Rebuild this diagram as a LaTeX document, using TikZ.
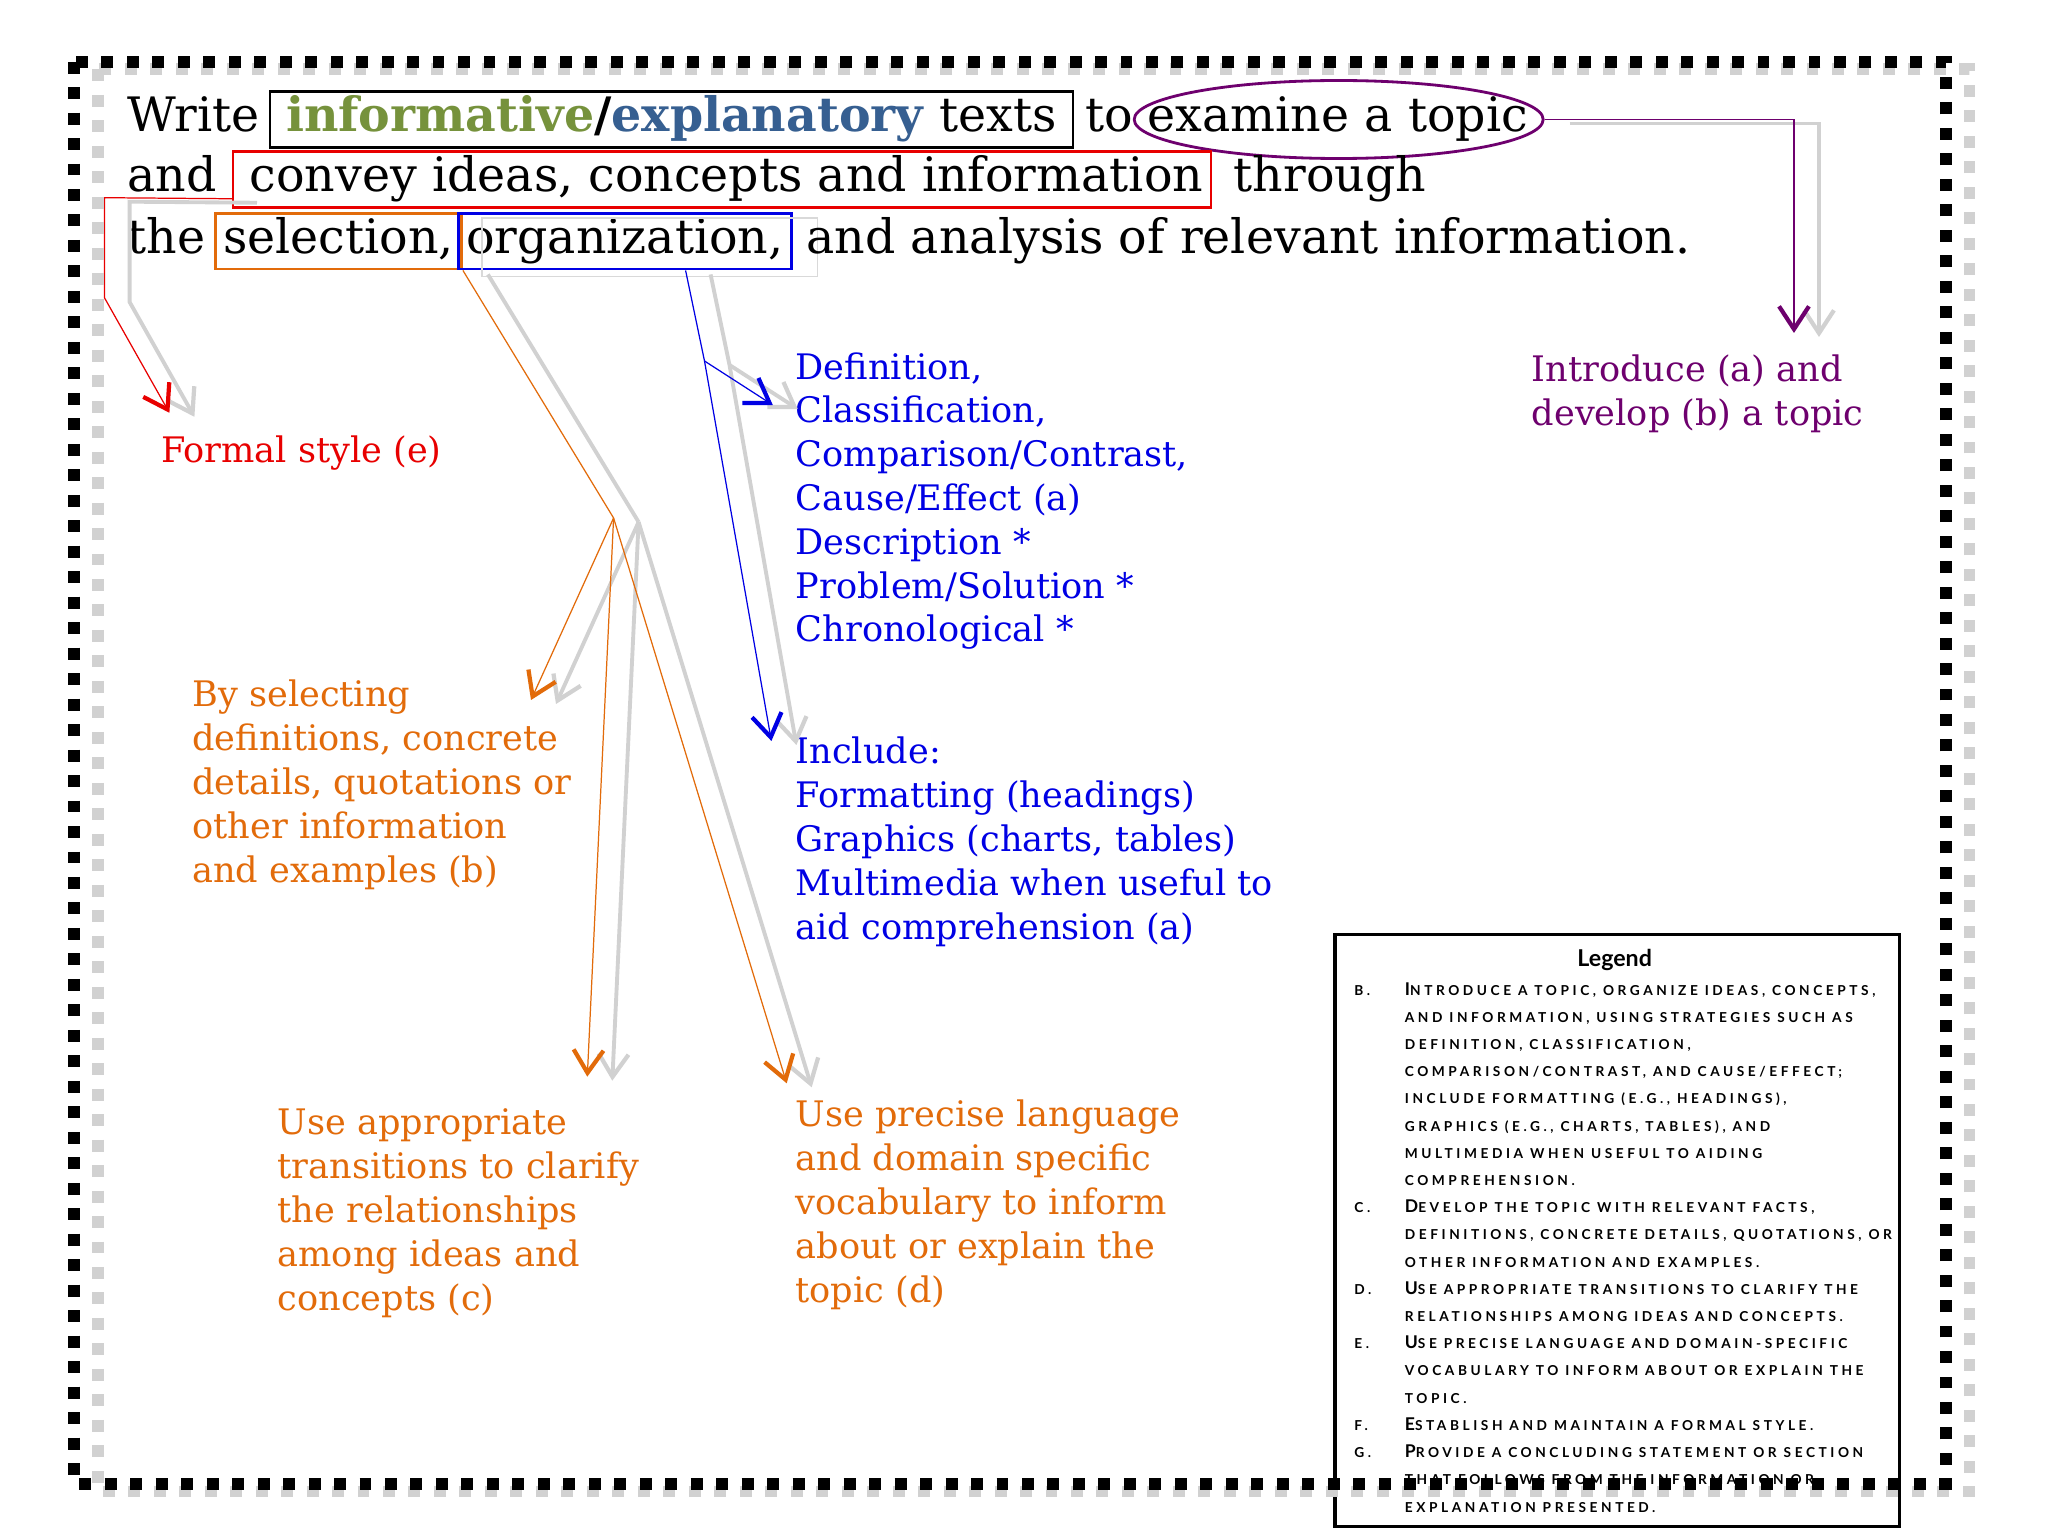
\documentclass[tikz,border=0pt]{standalone}
\usepackage{fontspec}
\usepackage{xcolor}
\usepackage{tikz}
\setmainfont{DejaVu Serif}
\newfontfamily\legendfont[LetterSpace=26]{Lato}
\newfontfamily\titlefont{Lato}
\usetikzlibrary{shapes.geometric,arrows.meta}

\definecolor{infogreen}{RGB}{118,146,60}
\definecolor{explblue}{RGB}{54,95,145}
\definecolor{stylered}{RGB}{232,0,0}
\definecolor{deforange}{RGB}{226,107,10}
\definecolor{orgblue}{RGB}{0,0,228}
\definecolor{topicpurple}{RGB}{110,0,110}

\newcommand{\hd}{\fontsize{13.5}{17}\selectfont}
\newcommand{\lbl}{\fontsize{10}{12.47}\selectfont}
\newcommand{\lgsmall}{\fontsize{3.9}{7.74}\selectfont}
\newcommand{\lgcap}[1]{{\fontsize{5}{7.74}\selectfont #1}}

\tikzset{
    word/.style={anchor=base west, inner sep=0pt, font=\hd},
    markbox/.style={draw=#1, line width=0.7pt, anchor=base west, font=\hd, inner xsep=2.2pt, inner ysep=1pt, text height=10.4pt, text depth=3.5pt},
    note/.style={anchor=base west, inner sep=0pt, align=left, font=\lbl, text=#1},
    link/.style={draw=#1, line width=0.35pt},
    ghost/.style={draw=black!18, line width=1.1pt, transform canvas={shift={(0.25, -0.04)}}},
    vtip/.style={-{Straight Barb[length=6.5pt, width=8.5pt, line width=1.2pt]}},
}

\begin{document}
\begin{tikzpicture}
    \fill[white] (0, 0) rectangle (20.48, -15.36);
    \useasboundingbox (0, 0) rectangle (20.48, -15.36);

    \node[word] (write) at (1.27, -1.317) {Write};
    \node[markbox=black, minimum width=8.035cm] (kind) at (2.685, -1.317) {\textcolor{infogreen}{\textbf{informative}}\textbf{/}\textcolor{explblue}{\textbf{explanatory}} texts};
    \node[word] (to) at (10.85, -1.317) {to};
    \node[word] (topic) at (11.47, -1.317) {examine a topic};
    \node[ellipse, draw=topicpurple, line width=0.8pt, minimum width=4.09cm, minimum height=0.78cm, inner sep=0pt] (ring) at (13.387, -1.195) {};

    \node[word] (and) at (1.27, -1.917) {and};
    \node[markbox=stylered] (convey) at (2.32, -1.917) {\hspace{2.5pt}convey ideas, concepts and information};
    \node[word] (through) at (12.33, -1.917) {through};

    \node[word] (the) at (1.27, -2.534) {the};
    \node[markbox=deforange] (select) at (2.143, -2.534) {selection,};
    \node[markbox=orgblue] (organize) at (4.573, -2.534) {organization,};
    \draw[black!15, line width=0.5pt] ([shift={(0.25, -0.06)}]organize.north west) rectangle ([shift={(0.25, -0.06)}]organize.south east);
    \node[word] (rest) at (8.06, -2.534) {and analysis of relevant information.};

    \node[note=topicpurple] (intro) at (15.31, -4.257) {Introduce (a) and\\develop (b) a topic};
    \node[note=stylered] (formal) at (1.604, -4.626) {Formal style (e)};
    \node[note=orgblue] (structures) at (7.95, -6.42) {Definition,\\Classification,\\Comparison/Contrast,\\Cause/Effect (a)\\Description *\\Problem/Solution *\\Chronological *};
    \node[note=orgblue] (include) at (7.95, -9.39) {Include:\\Formatting (headings)\\Graphics (charts, tables)\\Multimedia when useful to\\aid comprehension (a)};
    \node[note=deforange] (details) at (1.917, -8.82) {By selecting\\definitions, concrete\\details, quotations or\\other information\\and examples (b)};
    \node[note=deforange] (transitions) at (2.77, -13.10) {Use appropriate\\transitions to clarify\\the relationships\\among ideas and\\concepts (c)};
    \node[note=deforange] (language) at (7.95, -13.02) {Use precise language\\and domain specific\\vocabulary to inform\\about or explain the\\topic (d)};

    \coordinate (introtip) at (17.94, -3.33);
    \coordinate (formaltip) at (1.694, -4.128);
    \coordinate (fork) at (6.136, -5.18);
    \coordinate (bytip) at (5.31, -7.0);
    \coordinate (transtip) at (5.873, -10.767);
    \coordinate (precisetip) at (7.867, -10.833);
    \coordinate (orgbend) at (7.045, -3.61);
    \coordinate (deftip) at (7.728, -4.05);
    \coordinate (inctip) at (7.714, -7.41);

    \draw[ghost, vtip] (ring.east) -| (introtip);
    \draw[link=topicpurple, vtip] (ring.east) -| (introtip);

    \draw[ghost, vtip] ([yshift=1mm]convey.south west) -- (1.046, -1.977) -- (1.046, -2.98) -- (formaltip);
    \draw[link=stylered, vtip] ([yshift=1mm]convey.south west) -- (1.046, -1.977) -- (1.046, -2.98) -- (formaltip);

    \draw[ghost] (select.south east) -- (fork);
    \draw[ghost, vtip] (fork) -- (bytip);
    \draw[ghost, vtip] (fork) -- (transtip);
    \draw[ghost, vtip] (fork) -- (precisetip);
    \draw[link=deforange] (select.south east) -- (fork);
    \draw[link=deforange, vtip] (fork) -- (bytip);
    \draw[link=deforange, vtip] (fork) -- (transtip);
    \draw[link=deforange, vtip] (fork) -- (precisetip);

    \draw[ghost] ([xshift=-1.07cm]organize.south east) -- (orgbend);
    \draw[ghost, vtip] (orgbend) -- (deftip);
    \draw[ghost, vtip] (orgbend) -- (inctip);
    \draw[link=orgblue] ([xshift=-1.07cm]organize.south east) -- (orgbend);
    \draw[link=orgblue, vtip] (orgbend) -- (deftip);
    \draw[link=orgblue, vtip] (orgbend) -- (inctip);

    \node[draw, line width=0.9pt, anchor=north west, minimum width=5.645cm, minimum height=5.917cm, inner sep=0pt] (legend) at (13.334, -9.333) {};
    \node[font=\titlefont\bfseries\fontsize{6.6}{8}\selectfont, anchor=base, inner sep=0pt] (legendhead) at (16.147, -9.667) {Legend};
    \node[anchor=base west, inner sep=0pt, align=left, font=\legendfont\bfseries\lgsmall] (legendlist) at (13.537, -15.12) {
        \makebox[0.505cm][l]{B.}\lgcap{I}NTRODUCE A TOPIC, ORGANIZE IDEAS, CONCEPTS,\\
        \hspace*{0.505cm}AND INFORMATION, USING STRATEGIES SUCH AS\\
        \hspace*{0.505cm}DEFINITION, CLASSIFICATION,\\
        \hspace*{0.505cm}COMPARISON/CONTRAST, AND CAUSE/EFFECT;\\
        \hspace*{0.505cm}INCLUDE FORMATTING (E.G., HEADINGS),\\
        \hspace*{0.505cm}GRAPHICS (E.G., CHARTS, TABLES), AND\\
        \hspace*{0.505cm}MULTIMEDIA WHEN USEFUL TO AIDING\\
        \hspace*{0.505cm}COMPREHENSION.\\
        \makebox[0.505cm][l]{C.}\lgcap{D}EVELOP THE TOPIC WITH RELEVANT FACTS,\\
        \hspace*{0.505cm}DEFINITIONS, CONCRETE DETAILS, QUOTATIONS, OR\\
        \hspace*{0.505cm}OTHER INFORMATION AND EXAMPLES.\\
        \makebox[0.505cm][l]{D.}\lgcap{U}SE APPROPRIATE TRANSITIONS TO CLARIFY THE\\
        \hspace*{0.505cm}RELATIONSHIPS AMONG IDEAS AND CONCEPTS.\\
        \makebox[0.505cm][l]{E.}\lgcap{U}SE PRECISE LANGUAGE AND DOMAIN-SPECIFIC\\
        \hspace*{0.505cm}VOCABULARY TO INFORM ABOUT OR EXPLAIN THE\\
        \hspace*{0.505cm}TOPIC.\\
        \makebox[0.505cm][l]{F.}\lgcap{E}STABLISH AND MAINTAIN A FORMAL STYLE.\\
        \makebox[0.505cm][l]{G.}\lgcap{P}ROVIDE A CONCLUDING STATEMENT OR SECTION\\
        \hspace*{0.505cm}THAT FOLLOWS FROM THE INFORMATION OR\\
        \hspace*{0.505cm}EXPLANATION PRESENTED.};

    \draw[black!18, line width=3.4pt, dash pattern=on 3.4pt off 3.85pt] (0.979, -0.694) rectangle (19.695, -14.915);
    \draw[black, line width=3.4pt, dash pattern=on 3.4pt off 3.85pt] (0.744, -0.616) rectangle (19.46, -14.837);
\end{tikzpicture}
\end{document}
